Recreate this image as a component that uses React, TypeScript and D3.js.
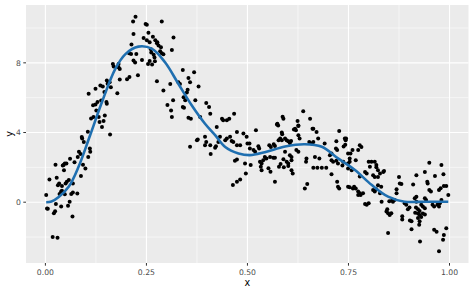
import React from "react";
import * as d3 from "d3";

// scatter points [x, y]
const pointsA: [number, number][] = [
  [0.002,0.41],[0.004,-0.36],[0.006,-0.38],[0.010,1.31],[0.018,-2.00],[0.030,-2.04],[0.021,-0.63],[0.024,-0.52],[0.025,2.15],[0.026,-0.10],
  [0.028,1.41],[0.031,0.97],[0.034,1.08],[0.035,0.47],[0.039,-0.25],[0.039,0.61],[0.041,0.66],[0.043,2.10],[0.046,1.84],[0.048,2.22],
  [0.048,0.45],[0.050,1.08],[0.053,1.17],[0.056,-0.20],[0.058,1.27],[0.060,0.03],[0.061,2.49],[0.064,0.47],[0.067,-0.82],[0.068,0.55],
  [0.068,1.08],[0.072,2.30],[0.080,2.60],[0.083,2.89],[0.087,2.76],[0.091,3.65],[0.090,3.74],[0.093,2.15],[0.095,3.46],[0.105,4.05],
  [0.106,2.60],[0.110,3.08],[0.111,2.89],[0.107,6.22],[0.113,4.80],[0.118,5.56],[0.119,4.89],[0.124,6.51],[0.124,5.61],[0.126,5.27],
  [0.129,5.75],[0.132,4.89],[0.134,4.60],[0.136,6.70],[0.138,5.84],[0.140,4.32],[0.142,6.64],[0.144,4.66],[0.146,6.32],[0.147,4.98],
  [0.151,5.75],[0.152,5.65],[0.152,6.98],[0.154,6.80],[0.159,6.89],[0.160,3.88],[0.162,6.60],[0.167,7.94],[0.169,7.79],[0.178,6.26],
  [0.181,7.94],[0.184,7.65],[0.184,7.04],[0.202,7.06],[0.208,7.18],[0.207,8.55],[0.212,8.51],[0.213,9.05],[0.217,10.38],[0.218,9.66],
  [0.218,8.13],[0.222,8.02],[0.223,10.65],[0.225,8.51],[0.229,7.29],[0.239,8.17],[0.243,9.42],[0.248,10.23],[0.251,10.19],[0.254,7.94],
  [0.255,9.73],[0.258,9.18],[0.261,8.78],[0.264,7.90],[0.266,9.50],[0.268,8.47],[0.271,8.09],[0.276,6.94],[0.277,9.18],
  [0.045,2.13],[0.052,2.22],[0.079,0.50],[0.041,0.93],[0.088,1.50],[0.099,1.94],[0.181,7.75],
];

const pointsB: [number, number][] = [
  [0.288,10.38],[0.251,9.30],[0.272,9.30],[0.317,9.46],[0.276,9.12],[0.280,8.99],[0.286,8.89],[0.313,8.74],[0.284,8.66],[0.288,8.55],
  [0.292,8.50],[0.262,8.60],[0.270,8.30],[0.258,8.10],[0.340,7.59],[0.368,7.46],[0.309,6.79],[0.329,6.89],[0.333,6.79],[0.354,7.13],
  [0.358,6.89],[0.292,6.41],[0.352,6.45],[0.350,6.30],[0.379,6.64],[0.342,6.03],[0.346,5.85],[0.371,5.85],[0.316,5.85],[0.302,5.58],
  [0.398,5.69],[0.405,5.46],[0.408,5.08],[0.340,5.46],[0.343,5.42],[0.311,5.27],[0.313,4.89],[0.354,4.85],[0.360,4.79],[0.383,4.89],
  [0.437,4.79],[0.449,4.70],[0.455,4.79],[0.467,5.08],[0.377,3.60],[0.358,3.18],[0.395,3.75],[0.398,3.46],[0.408,3.27],[0.422,3.21],
  [0.432,3.75],[0.445,3.56],[0.449,3.65],[0.457,3.75],[0.465,3.46],[0.474,3.27],[0.424,4.32],[0.440,4.70],[0.474,4.03],[0.490,3.94],
  [0.375,3.56],[0.395,3.27],[0.409,2.76],[0.420,3.13],[0.428,3.46],[0.461,3.52],[0.469,2.38],[0.474,2.45],[0.464,0.99],[0.474,1.18],
  [0.482,1.31],[0.482,3.27],[0.494,2.22],[0.496,1.65],[0.498,3.75],[0.500,3.37],
];

const pointsC: [number, number][] = [
  [0.521,4.13],[0.505,3.37],[0.506,3.08],[0.527,3.21],[0.529,3.08],[0.515,2.99],[0.519,2.89],[0.508,2.13],[0.531,2.32],[0.535,2.22],
  [0.539,2.41],[0.533,2.03],[0.535,1.84],[0.543,2.60],[0.547,2.51],[0.554,3.27],[0.558,3.17],[0.565,3.33],[0.568,3.23],[0.556,2.60],
  [0.564,2.55],[0.568,2.55],[0.574,4.51],[0.576,4.41],[0.587,4.91],[0.589,4.79],[0.585,4.00],[0.581,3.65],[0.585,3.56],[0.577,3.56],
  [0.593,3.65],[0.597,3.56],[0.601,3.50],[0.605,3.40],[0.608,3.52],[0.593,2.89],[0.589,2.47],[0.597,2.32],[0.601,2.22],[0.590,2.00],
  [0.601,2.08],[0.605,2.70],[0.609,2.60],[0.609,2.41],[0.609,1.84],[0.612,1.65],[0.568,1.18],[0.615,4.17],[0.618,4.22],[0.620,4.13],
  [0.626,4.41],[0.626,3.84],[0.621,2.99],[0.626,2.89],[0.638,5.22],[0.629,3.65],[0.645,2.32],[0.646,2.51],[0.642,0.79],[0.648,1.04],
  [0.655,4.79],[0.653,3.46],[0.659,3.37],[0.663,3.46],[0.661,4.22],[0.667,2.60],[0.663,1.98],[0.673,1.98],[0.675,3.65],[0.678,2.51],
  [0.684,1.98],[0.691,3.37],[0.695,1.98],[0.704,2.70],[0.708,2.79],[0.708,2.41],[0.712,2.32],[0.708,1.61],[0.719,3.08],[0.722,2.99],
  [0.720,3.50],[0.727,4.09],[0.722,1.18],[0.724,0.89],[0.727,0.79],[0.741,3.65],[0.743,3.56],[0.720,2.38],[0.724,2.22],[0.737,2.32],
  [0.749,1.94],[0.749,0.89],[0.624,4.66],[0.626,4.38],[0.663,4.22],[0.671,4.03],[0.573,4.46],[0.586,3.90],[0.552,1.95],[0.557,1.75],
  [0.578,2.03],[0.582,2.20],
];

const pointsD: [number, number][] = [
  [0.778,3.27],[0.782,3.17],[0.774,2.99],[0.744,3.65],[0.738,3.20],[0.742,3.30],[0.760,2.99],[0.755,2.79],[0.749,2.22],[0.753,2.32],
  [0.735,2.10],[0.758,1.84],[0.778,1.47],[0.764,0.89],[0.768,0.79],[0.774,0.61],[0.778,0.51],[0.786,0.51],[0.795,1.65],[0.791,1.74],
  [0.800,2.32],[0.807,2.32],[0.815,2.32],[0.819,2.13],[0.819,2.00],[0.803,2.03],[0.823,1.84],[0.811,1.55],[0.815,1.45],[0.828,1.65],
  [0.823,1.45],[0.823,0.98],[0.831,0.89],[0.811,0.70],[0.815,0.61],[0.819,0.74],[0.828,0.51],[0.836,1.74],[0.838,1.79],[0.795,-0.15],
  [0.800,-0.06],[0.791,-0.10],[0.832,0.03],[0.844,-0.54],[0.848,-0.63],[0.852,-0.73],[0.856,-0.63],[0.846,-0.40],[0.848,-1.77],[0.860,0.03],
  [0.864,0.13],[0.869,0.51],[0.875,1.45],[0.877,1.08],[0.881,1.04],[0.869,0.74],[0.883,-0.80],[0.883,-0.99],[0.889,-0.06],[0.893,-0.15],
  [0.897,-0.40],[0.901,-0.30],[0.902,-1.05],[0.906,-1.10],[0.906,-1.55],[0.910,1.01],[0.918,1.55],[0.917,-0.30],[0.922,-0.40],[0.926,-0.50],
  [0.915,-0.60],[0.922,-0.65],[0.926,-0.73],[0.918,0.03],[0.922,-0.90],[0.926,-1.10],[0.925,-1.30],[0.930,-0.15],[0.934,-0.25],[0.939,-0.35],
  [0.934,-0.65],[0.939,-0.70],[0.930,-0.85],[0.927,-2.25],[0.939,1.74],[0.950,2.27],[0.946,1.08],[0.950,0.70],[0.954,0.61],[0.939,0.22],
  [0.942,0.13],[0.958,-0.15],[0.962,-0.25],[0.962,-1.58],[0.968,-1.70],[0.970,-0.15],[0.974,-0.25],[0.974,0.70],[0.978,0.80],[0.980,2.13],
  [0.974,-2.82],[0.984,-2.15],[0.986,-1.88],[0.992,-1.49],[0.986,0.93],[0.992,0.93],[0.997,0.42],[0.964,1.50],[0.985,1.60],
  [0.749,2.79],[0.768,2.41],[0.753,2.51],[0.753,0.86],[0.761,0.79],[0.774,0.42],[0.780,0.42],[0.851,0.05],[0.858,0.10],
  [0.914,0.22],[0.918,0.32],[0.980,0.13],[0.976,-0.06],[0.945,1.18],
];

// smooth fit
const smoothX = [0.002,0.015,0.033,0.058,0.082,0.110,0.140,0.173,0.198,0.230,0.264,0.296,0.329,0.362,0.395,0.420,0.445,0.478,0.506,0.543,0.593,0.642,0.684,0.725,0.766,0.807,0.848,0.889,0.939,0.997];
const smoothY = [0.00,0.04,0.30,0.90,2.03,3.80,5.75,7.65,8.50,8.93,8.80,8.03,6.80,5.56,4.50,3.85,3.17,2.80,2.70,2.87,3.20,3.33,3.18,2.50,1.85,1.00,0.32,0.03,0.03,0.03];

const xTicks = [0, 0.25, 0.5, 0.75, 1];
const xTickLabels = ["0.00", "0.25", "0.50", "0.75", "1.00"];
const xMinor = [0.125, 0.375, 0.625, 0.875];
const yTicks = [0, 4, 8];
const yTickLabels = ["0", "4", "8"];
const yMinor = [-2, 2, 6, 10];

const W = 474, H = 292;
const panel = { left: 26, right: 468.5, top: 5, bottom: 263 };
const FONT = "DejaVu Sans, Liberation Sans, sans-serif";

export default function App() {
  const x = d3.scaleLinear().domain([-0.048, 1.047]).range([panel.left, panel.right]);
  const y = d3.scaleLinear().domain([-3.49, 11.32]).range([panel.bottom, panel.top]);
  const pts = [...pointsA, ...pointsB, ...pointsC, ...pointsD];
  const smooth = smoothX.map((v, i) => [v, smoothY[i]] as [number, number]);
  const line = d3.line<[number, number]>().x(d => x(d[0])).y(d => y(d[1])).curve(d3.curveCatmullRom.alpha(0.5));

  return (
    <svg width={W} height={H} style={{ position: "absolute", left: 0, top: 0, background: "#fff" }}>
      <rect x={0} y={0} width={W} height={H} fill="#fff" />
      <rect x={panel.left} y={panel.top} width={panel.right - panel.left} height={panel.bottom - panel.top} fill="#EBEBEB" />
      {xMinor.map(v => (
        <line key={"xm" + v} x1={x(v)} x2={x(v)} y1={panel.top} y2={panel.bottom} stroke="#fff" strokeWidth={0.55} />
      ))}
      {yMinor.map(v => (
        <line key={"ym" + v} x1={panel.left} x2={panel.right} y1={y(v)} y2={y(v)} stroke="#fff" strokeWidth={0.55} />
      ))}
      {xTicks.map(v => (
        <line key={"xM" + v} x1={x(v)} x2={x(v)} y1={panel.top} y2={panel.bottom} stroke="#fff" strokeWidth={1.1} />
      ))}
      {yTicks.map(v => (
        <line key={"yM" + v} x1={panel.left} x2={panel.right} y1={y(v)} y2={y(v)} stroke="#fff" strokeWidth={1.1} />
      ))}
      {pts.map((p, i) => (
        <circle key={i} cx={x(p[0])} cy={y(p[1])} r={2} fill="#000" />
      ))}
      <path d={line(smooth) || ""} fill="none" stroke="#1F6FB0" strokeWidth={2.6} strokeLinecap="butt" />
      {xTicks.map((v, i) => (
        <g key={"xt" + v}>
          <line x1={x(v)} x2={x(v)} y1={panel.bottom} y2={panel.bottom + 2.7} stroke="#333" strokeWidth={1} />
          <text x={x(v)} y={274.5} textAnchor="middle" fontSize={7.7} fill="#4D4D4D" fontFamily={FONT}>{xTickLabels[i]}</text>
        </g>
      ))}
      {yTicks.map((v, i) => (
        <g key={"yt" + v}>
          <line x1={panel.left - 2.7} x2={panel.left} y1={y(v)} y2={y(v)} stroke="#333" strokeWidth={1} />
          <text x={21} y={y(v) + 2.8} textAnchor="end" fontSize={7.7} fill="#4D4D4D" fontFamily={FONT}>{yTickLabels[i]}</text>
        </g>
      ))}
      <text x={(panel.left + panel.right) / 2} y={285.5} textAnchor="middle" fontSize={9.6} fill="#000" fontFamily={FONT}>x</text>
      <text transform={`translate(12.5, ${(panel.top + panel.bottom) / 2}) rotate(-90)`} textAnchor="middle" fontSize={9.6} fill="#000" fontFamily={FONT}>y</text>
    </svg>
  );
}
